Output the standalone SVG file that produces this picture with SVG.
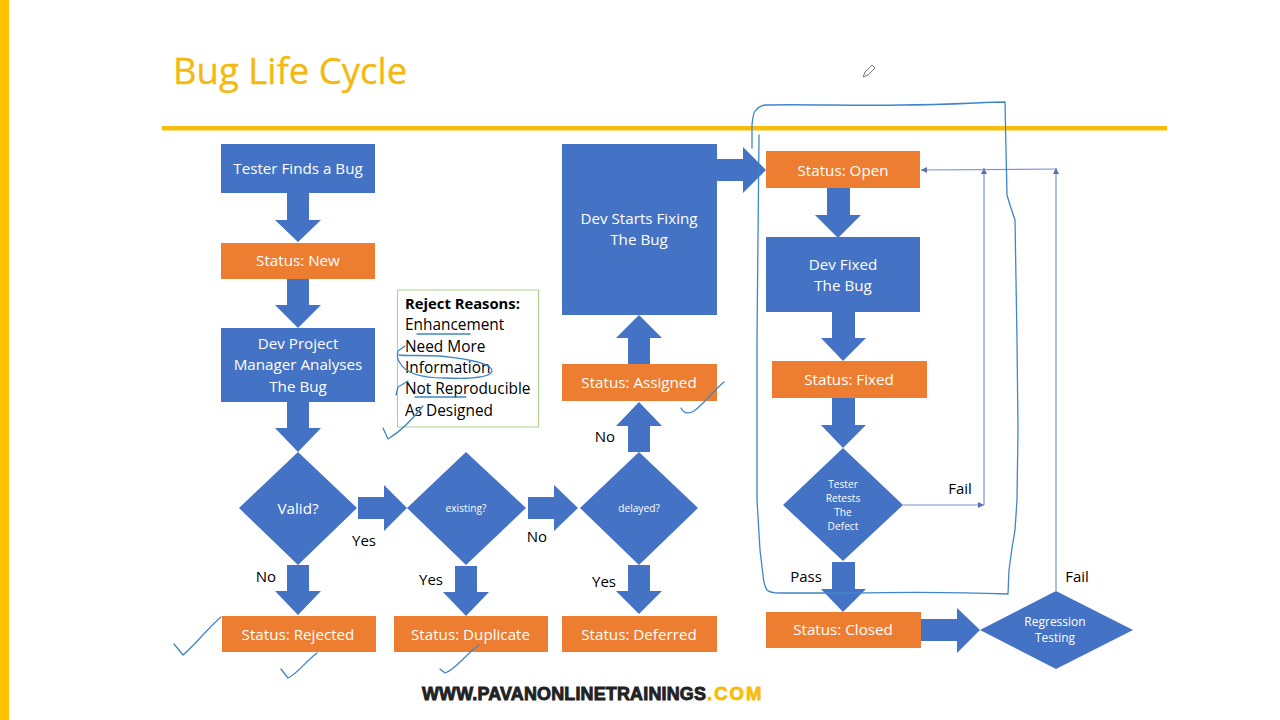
<svg xmlns="http://www.w3.org/2000/svg" width="1280" height="720" viewBox="0 0 1280 720">
<style>
text{font-family:"Open Sans","Noto Sans","Liberation Sans",sans-serif}
.b{fill:#4472c4}
.o{fill:#ed7d31}
.n{fill:#fff;font-size:15.2px;text-anchor:middle}
.s{fill:#fff;font-size:10.2px;text-anchor:middle}
.l{fill:#000;font-size:15px;text-anchor:middle}
.r{fill:#000;font-size:15.4px}
.thin{fill:none;stroke:#7a94cc;stroke-width:1.2}
.ink{fill:none;stroke:#3f86c8;stroke-width:1.3;stroke-linejoin:round;stroke-linecap:round}
.f{font-family:"Liberation Sans",sans-serif;font-size:17.9px;font-weight:700;stroke-width:.9}
</style>
<defs>
<marker id="tip" markerWidth="7" markerHeight="7" refX="6" refY="3" orient="auto" markerUnits="userSpaceOnUse"><path d="M0 0L6 3L0 6Z" fill="#5a6fb0"/></marker>
</defs>
<rect width="1280" height="720" fill="#fff"/>
<rect x="0" y="0" width="9" height="720" fill="#ffc000"/>
<rect x="162" y="126" width="1005" height="4.500" fill="#f6bd0e"/>
<text x="173" y="84" style="font-size:36.500px;stroke-width:.3" fill="#f4b90f" stroke="#f4b90f">Bug Life Cycle</text>

<g id="connectors">
<path class="b" d="M287 193H309V220H321L298 242L275 220H287Z"/>
<path class="b" d="M287 279H309V305H321L298 328L275 305H287Z"/>
<path class="b" d="M287 402H309V428H321L298 452L275 428H287Z"/>
<path class="b" d="M287 565H309V591H321L298 615L275 591H287Z"/>
<path class="b" d="M455 566H477V592H489L466 616L443 592H455Z"/>
<path class="b" d="M628 565H650V591H662L639 614L616 591H628Z"/>
<path class="b" d="M628 452H650V426H662L639 402L616 426H628Z"/>
<path class="b" d="M628 364H650V338H662L639 315L616 338H628Z"/>
<path class="b" d="M717 159H743V147L766 170L743 193V181H717Z"/>
<path class="b" d="M358 497H384V485L407 508L384 531V519H358Z"/>
<path class="b" d="M528 497H554V485L578 508L554 531V519H528Z"/>
<path class="b" d="M827 188H850V215H861L838 238L815 215H827Z"/>
<path class="b" d="M832 312H855V338H866L843 361L821 338H832Z"/>
<path class="b" d="M832 398H855V425H866L843 448L821 425H832Z"/>
<path class="b" d="M832 562H855V589H866L843 612L821 589H832Z"/>
<path class="b" d="M921 619H957V608L980 630L957 653V641H921Z"/>
<path class="thin" d="M903 505H984" marker-end="url(#tip)"/>
<path class="thin" d="M984 505V168" marker-end="url(#tip)"/>
<path class="thin" d="M1056 591V168" marker-end="url(#tip)"/>
<path class="thin" d="M1056 169L921 170" marker-end="url(#tip)"/>
<text class="l" x="364" y="546">Yes</text>
<text class="l" x="266" y="582">No</text>
<text class="l" x="431" y="585">Yes</text>
<text class="l" x="537" y="542">No</text>
<text class="l" x="605" y="442">No</text>
<text class="l" x="604" y="587">Yes</text>
<text class="l" x="960" y="494">Fail</text>
<text class="l" x="806" y="582">Pass</text>
<text class="l" x="1077" y="582">Fail</text>
</g>

<g id="tester-finds"><rect class="b" x="221" y="144" width="154" height="49"/><text class="n" x="298" y="174">Tester Finds a Bug</text></g>
<g id="status-new"><rect class="o" x="221" y="243" width="154" height="36"/><text class="n" x="298" y="266">Status: New</text></g>
<g id="dev-pm"><rect class="b" x="221" y="328" width="154" height="74"/><text class="n" x="298" y="349">Dev Project</text><text class="n" x="298" y="370">Manager Analyses</text><text class="n" x="298" y="392">The Bug</text></g>
<g id="valid"><path class="b" d="M298 452L357 508L298 565L239 508Z"/><text class="n" x="298" y="514">Valid?</text></g>
<g id="existing"><path class="b" d="M466 452L526 508L466 565L407 508Z"/><text class="s" x="466" y="512">existing?</text></g>
<g id="delayed"><path class="b" d="M639 452L698 508L639 565L580 508Z"/><text class="s" x="639" y="512">delayed?</text></g>
<g id="status-rejected"><rect class="o" x="222" y="616" width="154" height="36"/><text class="n" x="298" y="640">Status: Rejected</text></g>
<g id="status-duplicate"><rect class="o" x="394" y="616" width="154" height="36"/><text class="n" x="470.500" y="640">Status: Duplicate</text></g>
<g id="status-deferred"><rect class="o" x="562" y="616" width="155" height="36"/><text class="n" x="639" y="640">Status: Deferred</text></g>
<g id="dev-starts"><rect class="b" x="562" y="144" width="155" height="171"/><text class="n" x="639" y="224">Dev Starts Fixing</text><text class="n" x="639" y="245">The Bug</text></g>
<g id="status-assigned"><rect class="o" x="562" y="364" width="155" height="37"/><text class="n" x="639" y="388">Status: Assigned</text></g>
<g id="status-open"><rect class="o" x="766" y="151" width="154" height="37"/><text class="n" x="843" y="176">Status: Open</text></g>
<g id="dev-fixed"><rect class="b" x="766" y="237" width="154" height="75"/><text class="n" x="843" y="270">Dev Fixed</text><text class="n" x="843" y="291">The Bug</text></g>
<g id="status-fixed"><rect class="o" x="772" y="361" width="155" height="37"/><text class="n" x="849" y="385">Status: Fixed</text></g>
<g id="tester-retests"><path class="b" d="M843 448L903 505L843 561L783 505Z"/><text class="s" x="843" y="488">Tester</text><text class="s" x="843" y="502">Retests</text><text class="s" x="843" y="516">The</text><text class="s" x="843" y="530">Defect</text></g>
<g id="status-closed"><rect class="o" x="766" y="612" width="155" height="36"/><text class="n" x="843" y="635">Status: Closed</text></g>
<g id="regression"><path class="b" d="M1056 591L1133 630L1056 669L980 630Z"/><text x="1055" y="626" style="font-size:12px" fill="#fff" text-anchor="middle">Regression</text><text x="1055" y="642" style="font-size:12px" fill="#fff" text-anchor="middle">Testing</text></g>

<g id="reject-reasons">
<rect x="397.500" y="290" width="141" height="137" fill="#fff" stroke="#a9d18e" stroke-width="1"/>
<text class="r" x="405" y="309" font-weight="700" style="font-size:14.800px">Reject Reasons:</text>
<text class="r" x="405" y="330">Enhancement</text>
<text class="r" x="405" y="352">Need More</text>
<text class="r" x="405" y="373">Information</text>
<text class="r" x="405" y="394">Not Reproducible</text>
<text class="r" x="405" y="416">As Designed</text>
</g>

<g id="annotations">
<path class="ink" d="M752 148L752 125Q753 112 756 110Q759 106 765 105C800 104 860 106 900 105C950 105 985 102 1005 102L1006 150L1007 195L1010 205L1015 220L1016 280L1017 340L1018 430L1017 500L1015 530L1012 548L1009 570L1008 594C960 592 900 592 850 593L780 593Q770 593 767 590Q764 586 763 575L760 550L757 500L757 400L757 340L759 135"/>
<path class="ink" d="M405 346L398 351Q396 358 400 363C405 372 420 378 445 378C470 379 490 378 492 371C492 364 470 359 440 356C420 355 405 356 399 355"/>
<path class="ink" d="M417 334L470 334"/>
<path class="ink" d="M415 397L466 397"/>
<path class="ink" d="M396 395L398 387L408 381"/>
<path class="ink" d="M383 428L388 439C398 433 412 420 423 406"/>
<path class="ink" d="M681 408C684 414 689 414 694 411C703 405 714 390 724 382"/>
<path class="ink" d="M174 644L183 655C195 645 208 628 221 617"/>
<path class="ink" d="M281 669L288 678C297 674 305 662 317 653"/>
<path class="ink" d="M440 669L445 673C455 670 465 655 479 645"/>
</g>
<g id="pencil" fill="#fff" stroke="#777" stroke-width="1">
<path d="M863 77L865 72L872 65L875 68L868 75Z"/>
</g>

<g id="footer">
<text class="f" x="422" y="700" style="letter-spacing:.2px" fill="#222" stroke="#222">WWW.PAVANONLINETRAININGS</text>
<text class="f" x="707" y="700" style="font-size:18.500px;letter-spacing:2px" fill="#f7bd0a" stroke="#f7bd0a">.COM</text>
</g>
</svg>
